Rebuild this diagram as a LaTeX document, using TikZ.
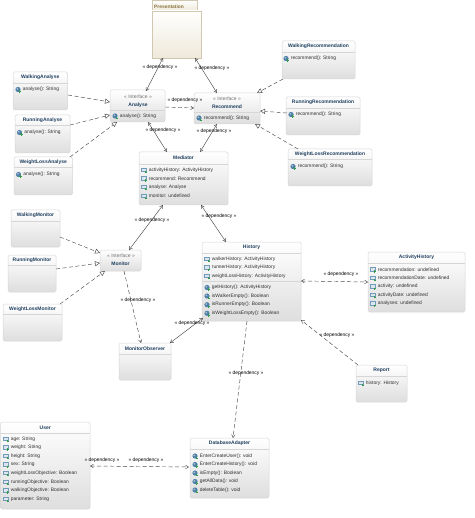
\documentclass[tikz,border=0pt]{standalone}
\usepackage{fontspec}
\setmainfont{Liberation Sans}
\usetikzlibrary{arrows.meta}
\definecolor{edge}{HTML}{D6D6D6}
\definecolor{titleblue}{HTML}{1F3F5F}
\definecolor{txt}{HTML}{303030}
\definecolor{line}{HTML}{484848}
\definecolor{mblue}{HTML}{4F80A8}
\definecolor{pgreen}{HTML}{2E9A4A}
\definecolor{pkgedge}{HTML}{CFC7B0}
\definecolor{pkgbot}{HTML}{EFE9DA}
\definecolor{pkgtitle}{HTML}{8A7440}
\tikzset{
  umlbox/.style={draw=edge,line width=.5pt,rounded corners=1.5pt,top color=white,bottom color=black!13,inner sep=0pt,outer sep=0pt},
  pkgbox/.style={draw=pkgedge,line width=.5pt,top color=white,bottom color=pkgbot,inner sep=0pt,outer sep=0pt},
  title/.style={font=\fontsize{5}{6}\selectfont\bfseries,text=titleblue,inner sep=0pt},
  stereo/.style={font=\fontsize{5}{6}\selectfont,text=black!55,inner sep=0pt},
  rowtext/.style={font=\fontsize{4.9}{6}\selectfont,text=txt,anchor=west,inner sep=0pt},
  deplabel/.style={font=\fontsize{4.9}{6}\selectfont,text=black,inner sep=0pt},
  seam/.style={draw=edge,line width=.4pt},
  dep/.style={draw=line,line width=.45pt,dash pattern=on 4pt off 2.5pt},
  assoc/.style={draw=line,line width=.45pt,{Straight Barb[length=3pt,width=3.5pt]}-{Straight Barb[length=3pt,width=3.5pt]}},
  depto/.style={dep,-{Straight Barb[length=3pt,width=3.5pt]}},
  depboth/.style={dep,{Straight Barb[length=3pt,width=3.5pt]}-{Straight Barb[length=3pt,width=3.5pt]}},
  real/.style={dep,-{Triangle[open,length=5pt,width=5pt,fill=white]}},
}
\newcounter{rowc}
% name x1 y1 x2 y2 seam-y title
\newcommand{\ubox}[7]{%
  \pgfmathsetmacro{\bw}{#4-#2}\pgfmathsetmacro{\bh}{#5-#3}%
  \pgfmathsetmacro{\cx}{(#2+#4)/2}\pgfmathsetmacro{\cy}{(#3+#5)/2}%
  \pgfmathsetmacro{\ty}{(#3+#6)/2}%
  \node[umlbox,minimum width=\bw pt,minimum height=\bh pt] (#1) at (\cx,\cy) {};
  \draw[seam] (#2,#6) -- (#4,#6);
  \node[title] (#1T) at (\cx,\ty) {#7};
}
\newcommand{\mth}[3]{%
  \stepcounter{rowc}%
  \fill[mblue] (#1,#2) circle (2.6pt);
  \fill[white,opacity=.5] (#1-.7,#2-.7) circle (1pt);
  \draw[pgreen,line width=.7pt] (#1+.6,#2+2) -- (#1+3,#2+2) (#1+1.8,#2+.8) -- (#1+1.8,#2+3.2);
  \node[rowtext] (row\therowc) at (#1+4.7,#2) {#3};
}
\newcommand{\fld}[3]{%
  \stepcounter{rowc}%
  \draw[mblue!80,fill=mblue!20,line width=.5pt] (#1-2.6,#2-2.2) rectangle (#1+2.2,#2+1.3);
  \draw[pgreen,line width=.7pt] (#1+.6,#2+2) -- (#1+3,#2+2) (#1+1.8,#2+.8) -- (#1+1.8,#2+3.2);
  \node[rowtext] (row\therowc) at (#1+4.7,#2) {#3};
}
\newcommand{\from}[3]{([shift={(#2,#3)}]#1.north west)}
\newcommand{\dlabel}[3]{\node[deplabel] (#1) at (#2,#3) {« dependency »};}
\begin{document}
\begin{tikzpicture}[x=1pt,y=-1pt]
\useasboundingbox (0,0) rectangle (474,518);
% package
\node[pkgbox,minimum width=45.5pt,minimum height=11pt] (presTab) at (174.75,5.5) {};
\node[pkgbox,minimum width=49pt,minimum height=47pt] (pres) at (176.5,34.5) {};
\node[font=\fontsize{4.9}{6}\selectfont\bfseries,text=pkgtitle,anchor=west,inner sep=0pt] (presT) at (154,6.5) {Presentation};
% analyse
\ubox{wa}{13}{72}{67.5}{110}{83}{WalkingAnalyse}
\mth{18}{89.5}{analyse(): String}
\ubox{ra}{15}{115}{70}{153}{125.5}{RunningAnalyse}
\mth{19.5}{132.5}{analyse(): String}
\ubox{wla}{14}{157}{72.5}{195}{167.5}{WeightLossAnalyse}
\mth{18.5}{174.5}{analyse(): String}
% interface Analyse
\node[umlbox,minimum width=55pt,minimum height=32pt] (an) at (137.5,106) {};
\draw[seam] (110,110) -- (165,110);
\node[stereo] (anS) at (138,96.5) {« Interface »};
\node[title] (anT) at (138,105) {Analyse};
\mth{115}{116}{analyse(): String}
% interface Recommend
\node[umlbox,minimum width=66pt,minimum height=31pt] (re) at (227,108.5) {};
\draw[seam] (194,112) -- (260,112);
\node[stereo] (reS) at (227,98.5) {« Interface »};
\node[title] (reT) at (227,106.5) {Recommend};
\mth{199}{118}{recommend(): String}
% recommendations
\ubox{wr}{282}{41}{355}{79}{52}{WalkingRecommendation}
\mth{286}{58.5}{recommend(): String}
\ubox{rr}{286}{97}{360}{135}{108}{RunningRecommendation}
\mth{291}{114.5}{recommend(): String}
\ubox{wlr}{288}{149}{372}{186}{159.5}{WeightLossRecommendation}
\mth{293}{166.5}{recommend(): String}
% mediator
\ubox{me}{139}{152}{228}{205}{164}{Mediator}
\fld{144}{170}{activityHistory: ActivityHistory}
\fld{144}{178.7}{recommend: Recommend}
\fld{144}{187.3}{analyse: Analyse}
\fld{144}{196}{monitor: undefined}
% monitors
\ubox{wm}{11}{210}{60}{247}{221}{WalkingMonitor}
\ubox{rm}{8}{255}{56}{292}{265.5}{RunningMonitor}
\ubox{wlm}{3}{304}{62}{341}{314.5}{WeightLossMonitor}
\node[umlbox,minimum width=41pt,minimum height=21pt] (mo) at (120.5,260.5) {};
\node[stereo] (moS) at (121,256) {« Interface »};
\node[title] (moT) at (120.5,264) {Monitor};
\ubox{mob}{119}{343}{171}{380}{354}{MonitorObserver}
% history
\ubox{hi}{202}{242}{301}{321}{253}{History}
\fld{207}{259}{walkerHistory: ActivityHistory}
\fld{207}{267.7}{runnerHistory: ActivityHistory}
\fld{207}{276}{weightLossHistory: ActivityHistory}
\draw[seam] (202,281) -- (301,281);
\mth{207}{287.5}{getHistory(): ActivityHistory}
\mth{207}{296}{isWalkerEmpty(): Boolean}
\mth{207}{304.7}{isRunnerEmpty(): Boolean}
\mth{207}{313.3}{isWeightLossEmpty(): Boolean}
% activity history
\ubox{ah}{368}{252}{465}{312}{263}{ActivityHistory}
\fld{373}{269.5}{recommendation: undefined}
\fld{373}{278}{recommendationDate: undefined}
\fld{373}{286.7}{activity: undefined}
\fld{373}{295}{activityDate: undefined}
\fld{373}{303.7}{analyses: undefined}
% report
\ubox{rp}{356}{365}{407}{402}{376}{Report}
\fld{361}{383}{history: History}
% user
\ubox{us}{0.5}{422}{90}{509}{433}{User}
\fld{6}{439}{age: String}
\fld{6}{447.5}{weight: String}
\fld{6}{456}{height: String}
\fld{6}{464.7}{sex: String}
\fld{6}{473}{weightLossObjective: Boolean}
\fld{6}{482}{runningObjective: Boolean}
\fld{6}{490.5}{walkingObjective: Boolean}
\fld{6}{499}{parameter: String}
% database
\ubox{db}{190}{438}{269}{498}{449}{DatabaseAdapter}
\mth{195}{456}{EnterCreateUser(): void}
\mth{195}{464.5}{EnterCreateHistory(): void}
\mth{195}{473}{isEmpty(): Boolean}
\mth{195}{481.5}{getAllData(): void}
\mth{195}{490}{deleteTable(): void}
% associations
\draw[assoc] \from{pres}{11}{47} -- \from{an}{36}{1};
\draw[assoc] \from{pres}{43}{47} -- \from{re}{23}{0};
\draw[assoc] \from{an}{38}{32} -- \from{me}{28}{0};
\draw[assoc] \from{re}{23}{31} -- \from{me}{61}{0};
\draw[assoc] \from{me}{24}{53} -- \from{mo}{29}{0};
\draw[assoc] \from{me}{62}{53} -- \from{hi}{24}{0};
\draw[assoc] \from{mob}{51}{0} -- \from{hi}{1}{76};
% dependencies
\draw[depto] \from{an}{55}{17} -- \from{re}{0}{15};
\draw[depboth] \from{hi}{99}{39} -- \from{ah}{0}{30};
\draw[depto] \from{mo}{24}{21} -- \from{mob}{22}{0};
\draw[depto] \from{rp}{2}{0} -- \from{hi}{99}{78};
\draw[depto] \from{hi}{45}{79} -- \from{db}{43}{0};
\draw[depboth] \from{us}{89.5}{44} -- \from{db}{-1}{29};
% realisations
\draw[real] \from{wa}{55}{23} -- \from{an}{0}{12};
\draw[real] \from{ra}{55}{10} -- \from{an}{0}{25};
\draw[real] \from{wla}{56}{0} -- \from{an}{7}{32};
\draw[real] \from{wr}{1}{38} -- \from{re}{63}{0};
\draw[real] \from{rr}{1}{16} -- \from{re}{66}{18};
\draw[real] \from{wlr}{10}{0} -- \from{re}{61}{31};
\draw[real] \from{wm}{49}{27} -- \from{mo}{0}{3};
\draw[real] \from{rm}{48}{14} -- \from{mo}{0}{13};
\draw[real] \from{wlm}{57}{0} -- \from{mo}{5}{21};
% labels
\dlabel{l1}{160}{67}
\dlabel{l2}{212}{68}
\dlabel{l3}{185}{100}
\dlabel{l4}{163}{130.5}
\dlabel{l5}{214}{131.5}
\dlabel{l6}{152}{220}
\dlabel{l7}{219}{216}
\dlabel{l8}{138}{300}
\dlabel{l9}{192}{323}
\dlabel{l10}{341}{274.5}
\dlabel{l11}{246}{373}
\dlabel{l12}{337}{335}
\dlabel{l13}{102}{460}
\dlabel{l14}{146}{460}
\end{tikzpicture}
\end{document}
